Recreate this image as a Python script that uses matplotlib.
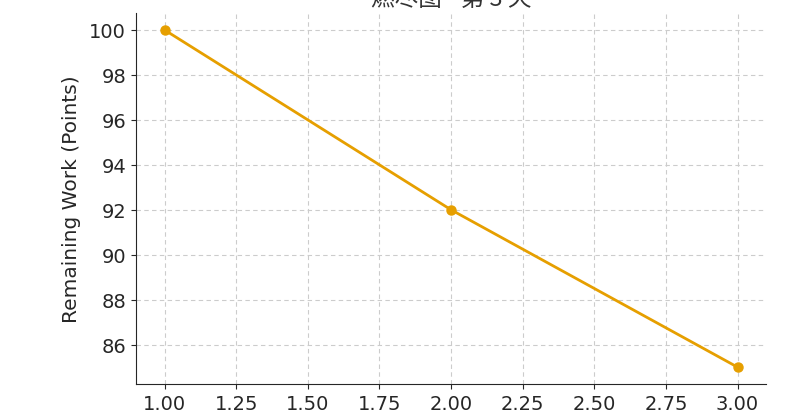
import matplotlib.pyplot as plt

days = [1, 2, 3]
remaining = [100, 92, 85]
title = '燃尽图 - 第 3 天'


def main():
    plt.rcParams['font.family'] = ['DejaVu Sans', 'Noto Sans CJK SC']

    fig = plt.figure(figsize=(8.04, 4.14), dpi=100)
    ax = fig.add_axes([0.169, 0.070, 0.784, 0.896])

    ax.plot(days, remaining, marker='o', color='#E69F00', linewidth=2, markersize=6.5)

    ax.set_title(title, fontsize=17, color='#333333', pad=6,
                 family=['Noto Sans CJK SC', 'DejaVu Sans'])
    ax.set_ylabel('Remaining Work (Points)', fontsize=14.5, color='#262626', labelpad=6)

    ax.set_xticks([1.0, 1.25, 1.5, 1.75, 2.0, 2.25, 2.5, 2.75, 3.0])
    ax.xaxis.set_major_formatter(plt.FormatStrFormatter('%.2f'))
    ax.tick_params(labelsize=14, colors='#262626')

    ax.grid(True, linestyle=(0, (4, 3)), color='#cccccc', linewidth=0.8)
    ax.spines['top'].set_visible(False)
    ax.spines['right'].set_visible(False)
    ax.spines['left'].set_color('#262626')
    ax.spines['bottom'].set_color('#262626')

    fig.savefig('out.png', dpi=100)


if __name__ == '__main__':
    main()
